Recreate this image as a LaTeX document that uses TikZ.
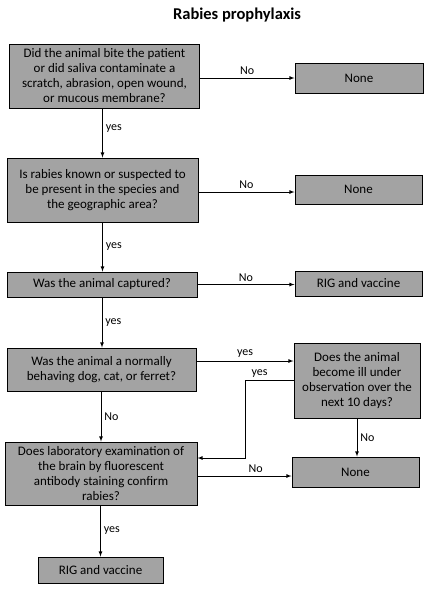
\documentclass[tikz,border=0pt]{standalone}
\usepackage{fontspec}
\setmainfont{Carlito}
\begin{document}
\begin{tikzpicture}[x=1pt,y=-1pt,
    qbox/.style={draw=black,line width=1pt,fill=black!36,align=center,inner sep=2pt,
        font=\fontsize{13}{15}\selectfont},
    lbl/.style={font=\fontsize{12}{14}\selectfont,inner sep=3pt},
    arr/.style={line width=0.8pt,-latex}]
    \useasboundingbox (0,0) rectangle (435,590);
    %% title
    \node[font=\fontsize{16.5}{19}\selectfont\bfseries] (title) at (237,15) {Rabies prophylaxis};
    %% questions (left column)
    \node[qbox,minimum width=190,minimum height=64] (bite) at (104.5,76)
        {Did the animal bite the patient\\or did saliva contaminate a\\scratch, abrasion, open wound,\\or mucous membrane?};
    \node[qbox,minimum width=191,minimum height=64] (known) at (102.5,190)
        {Is rabies known or suspected to\\be present in the species and\\the geographic area?};
    \node[qbox,minimum width=190,minimum height=25] (captured) at (102,284.5)
        {Was the animal captured?};
    \node[qbox,minimum width=189,minimum height=43] (normal) at (101.5,369.5)
        {Was the animal a normally\\behaving dog, cat, or ferret?};
    \node[qbox,minimum width=192,minimum height=63] (lab) at (101,473.5)
        {Does laboratory examination of\\the brain by fluorescent\\antibody staining confirm\\rabies?};
    \node[qbox,minimum width=125,minimum height=26] (rig2) at (100.5,570) {RIG and vaccine};
    %% outcomes (right column)
    \node[qbox,minimum width=128,minimum height=30] (none1) at (359,78) {None};
    \node[qbox,minimum width=127,minimum height=29] (none2) at (358.5,189.5) {None};
    \node[qbox,minimum width=127,minimum height=25] (rig1) at (358.5,283.5) {RIG and vaccine};
    \node[qbox,minimum width=126,minimum height=75] (observe) at (357,380.5)
        {Does the animal\\become ill under\\observation over the\\next 10 days?};
    \node[qbox,minimum width=127,minimum height=30] (none3) at (355.5,472) {None};
    \coordinate (turn) at (245,458);
    %% yes arrows
    \draw[arr] (bite.south -| known.north) -- (known.north) node[lbl,right,pos=0.4] (y1) {yes};
    \draw[arr] (known.south) -- (known.south |- captured.north) node[lbl,right,midway] (y2) {yes};
    \draw[arr] (captured.south) -- (captured.south |- normal.north) node[lbl,right,midway] (y3) {yes};
    \draw[arr] ([yshift=8.5pt]normal.east) -- ([yshift=8.5pt]normal.east -| observe.west) node[lbl,above,midway] (y4) {yes};
    \draw[arr] (observe.west) -| node[lbl,above,pos=0.35] (y5) {yes} (turn) -- (turn -| lab.east);
    \draw[arr] (lab.south -| rig2.north) -- (rig2.north) node[lbl,right,midway] (y6) {yes};
    %% no arrows
    \draw[arr] (bite.east |- none1.west) -- (none1.west) node[lbl,above,midway] (n1) {No};
    \draw[arr] ([yshift=-2pt]known.east) -- ([yshift=-2pt]known.east -| none2.west) node[lbl,above,midway] (n2) {No};
    \draw[arr] (captured.east) -- (captured.east -| rig1.west) node[lbl,above,midway] (n3) {No};
    \draw[arr] (normal.south -| lab.north) -- (lab.north) node[lbl,right,midway] (n4) {No};
    \draw[arr] (observe.south) -- (observe.south |- none3.north) node[lbl,right,midway] (n5) {No};
    \draw[arr] ([yshift=-2.5pt]lab.east) -- ([yshift=-2.5pt]lab.east -| none3.west) node[lbl,above,pos=0.62] (n6) {No};
\end{tikzpicture}
\end{document}
